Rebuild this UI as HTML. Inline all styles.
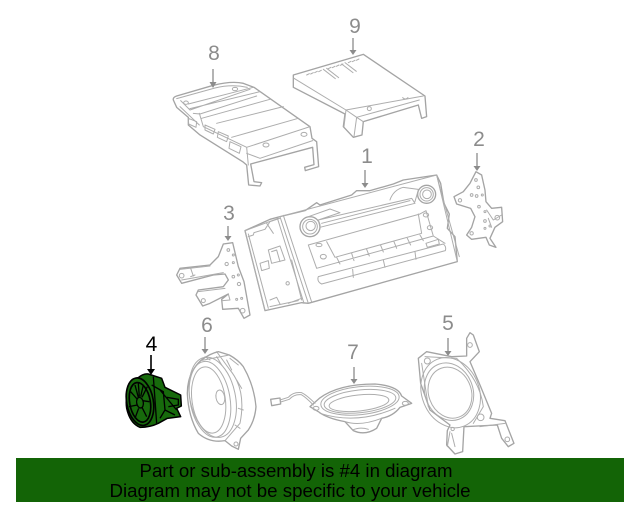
<!DOCTYPE html>
<html><head><meta charset="utf-8"><style>
html,body{margin:0;padding:0;background:#fff;width:640px;height:512px;overflow:hidden}
svg{display:block}
.g{fill:#fff;stroke:#a4a4a4;stroke-width:4;stroke-linejoin:round;stroke-linecap:round}
.n{fill:none;stroke:#adadad;stroke-width:3;stroke-linejoin:round;stroke-linecap:round}
.k{fill:#176a0c;stroke:#000;stroke-width:4.5;stroke-linejoin:round}
.kn{fill:none;stroke:#000;stroke-width:4}
.l{font-family:"Liberation Sans",sans-serif;font-size:21px;fill:#8c8c8c;text-anchor:middle}
.a{stroke:#8c8c8c;stroke-width:1.3;fill:none}
.h{fill:#8c8c8c}
</style></head><body>
<svg width="640" height="512" viewBox="0 0 640 512" xmlns="http://www.w3.org/2000/svg">

<!-- Part 8 -->
<g transform="translate(160,10) scale(.3333)">
<path class="g" d="M40 270Q38 262 50 258L160 226Q215 212 250 220L282 232L450 350L456 385L470 395L476 470L436 482L434 472L462 464L458 412L272 462L282 515L305 518L300 528L266 525L260 465L248 455L120 375L85 345L85 322L50 292Z"/>
<path class="n" d="M50 266L165 234Q215 222 262 232M62 272L90 300L270 238M85 282L280 232M90 296L300 245M100 310L120 312L290 258M118 310L130 350L260 412L450 350M125 325L330 268M170 340L370 290M215 382L415 325M260 412L265 465M260 430L300 445L458 392M60 290L118 345"/>
<path class="n" d="M135 345L165 358L160 372L135 360ZM175 365L205 378L200 395L172 382ZM210 395L243 410L238 430L207 415ZM85 325L110 335L108 352L86 342Z"/>
<ellipse class="n" cx="318" cy="405" rx="9" ry="6"/><ellipse class="n" cx="432" cy="373" rx="9" ry="6"/><ellipse class="n" cx="225" cy="237" rx="8" ry="5"/><ellipse class="n" cx="78" cy="278" rx="7" ry="5"/>
</g>

<!-- Part 9 -->
<g transform="translate(160,10) scale(.3333)">
<path class="g" d="M400 195L610 133L795 258L800 320L785 325L775 285L610 335L606 375L580 382L550 350L555 312L400 232Z"/>
<path class="n" d="M402 205L558 300L790 258M558 300L590 322L778 270M590 322L582 380M610 335L590 322M558 300L552 350"/>
<path class="n" d="M440 195l8-4M452 192l8-4M464 188l8-4M476 185l8-4M505 176l8-4M517 173l8-4M529 169l8-4M541 166l8-4M565 158l8-4M577 155l8-4M589 151l8-4M490 178l36 28M500 175l36 28M545 162l34 26M555 158l34 26"/>
<circle class="n" cx="628" cy="296" r="6"/><path class="n" d="M728 263q8 8 16 0"/>
</g>

<!-- Part 1 -->
<g transform="translate(170,140) scale(.3333)">
<path class="g" d="M225 272L285 245L300 238L330 230L405 212L440 188L450 195L545 165L560 152L600 152L670 132L700 120L800 105L812 130L822 190L838 222L832 265L855 290L862 365L415 490L395 488L285 512Z"/>
<path class="n" d="M330 230L800 105L862 365M330 230L415 490M322 234L402 490M340 226L425 486M225 272L285 512M235 282L295 505M300 500L385 482M225 272L325 235"/>
<path class="n" d="M235 290L250 285L252 278L285 268L300 245L330 235M290 250L310 280M295 330L330 318L345 360L305 370ZM305 335L320 330L330 365M270 370L295 362L298 385L275 392ZM365 360L395 480M300 480L320 472L330 492M355 490L395 475"/>
<circle class="n" cx="353" cy="430" r="5"/>
<circle class="g" cx="420" cy="260" r="30"/><circle class="n" cx="422" cy="258" r="14"/><circle class="n" cx="420" cy="260" r="22"/>
<circle class="g" cx="770" cy="163" r="27"/><circle class="n" cx="771" cy="163" r="13"/><circle class="n" cx="770" cy="163" r="20"/>
<path class="n" d="M415 230L480 207L510 218L445 240M445 240L725 175L735 190L450 262ZM455 250L720 182M660 180Q670 150 700 142L745 148M735 185L745 150"/>
<path class="n" d="M415 315L750 222L768 212L790 288L825 310M415 315L440 385L790 288M470 305L495 352L755 280L745 222M500 352L510 372M545 340L552 362M590 328L598 348M632 316L640 336M672 305L680 325M712 295L722 315M750 285L760 302M548 388L550 412M640 360L645 382M735 335L738 358"/>
<path class="n" d="M445 410L820 312Q830 320 826 332L455 432Q440 425 445 410Z"/>
<path class="n" d="M768 310L805 298L808 312L772 322Z"/>
<ellipse class="n" cx="447" cy="315" rx="9" ry="5"/><ellipse class="n" cx="460" cy="350" rx="9" ry="7"/><ellipse class="n" cx="768" cy="225" rx="8" ry="6"/><ellipse class="n" cx="780" cy="263" rx="8" ry="6"/>
<path class="n" d="M800 105L812 150L868 350"/>
</g>

<!-- Part 2 -->
<g transform="translate(170,140) scale(.3333)">
<path class="g" d="M918 95L935 105L945 150L948 185L965 205L995 202L998 245L975 262L960 295L978 322L958 315L948 292L905 298L890 285L905 262L915 230L902 205L860 192L852 170L880 155L900 130Z"/>
<path class="n" d="M950 210L970 240L995 225M965 262L955 235"/>
<circle class="n" cx="982" cy="233" r="7"/><circle class="n" cx="870" cy="181" r="5"/><circle class="n" cx="918" cy="120" r="4"/><circle class="n" cx="925" cy="142" r="4"/><circle class="n" cx="905" cy="165" r="4"/><circle class="n" cx="920" cy="168" r="4"/><circle class="n" cx="937" cy="165" r="3"/><circle class="n" cx="927" cy="200" r="4"/><circle class="n" cx="945" cy="215" r="3"/><circle class="n" cx="945" cy="243" r="4"/><circle class="n" cx="960" cy="258" r="3"/><circle class="n" cx="905" cy="280" r="5"/><circle class="n" cx="945" cy="265" r="3"/>
</g>

<!-- Part 3 -->
<g transform="translate(170,140) scale(.3333)">
<path class="g" d="M160 312L188 308L205 380L222 425L240 525L222 535L205 505L158 508L155 478L175 462L120 490L98 498L78 465L85 450L160 440L175 420L165 402L130 405L35 430L20 405L30 385L120 375L145 350Z"/>
<path class="n" d="M30 388L120 378M35 420L160 398M62 385L70 408M62 410L75 405M85 455L165 445M175 462L180 480L158 482"/>
<circle class="n" cx="35" cy="407" r="7"/><circle class="n" cx="100" cy="482" r="6"/><circle class="n" cx="218" cy="512" r="7"/><circle class="n" cx="170" cy="372" r="5"/><circle class="n" cx="175" cy="330" r="4"/><circle class="n" cx="190" cy="368" r="3"/><circle class="n" cx="190" cy="410" r="4"/><circle class="n" cx="205" cy="405" r="3"/><circle class="n" cx="207" cy="432" r="5"/><circle class="n" cx="200" cy="478" r="3"/><circle class="n" cx="215" cy="475" r="3"/><circle class="n" cx="190" cy="345" r="3"/>
</g>

<!-- Part 6 -->
<g transform="translate(110,310) scale(.3333)">
<path class="g" d="M272 152Q300 130 325 125L358 135Q385 150 400 170Q432 225 438 290Q435 330 415 360L392 385L385 418L365 408L345 392Q300 400 265 370Q235 320 232 250Q232 190 272 152Z"/>
<ellipse class="n" cx="308" cy="262" rx="68" ry="122" transform="rotate(-12 308 262)"/>
<ellipse class="n" cx="300" cy="268" rx="60" ry="115" transform="rotate(-10 300 268)"/>
<ellipse class="n" cx="296" cy="270" rx="50" ry="100" transform="rotate(-8 296 270)"/>
<ellipse class="n" cx="331" cy="262" rx="13" ry="22" transform="rotate(-10 331 262)"/>
<path class="n" d="M272 152L358 135M320 125L360 180Q410 240 390 340L345 392M285 140L300 150M320 140L335 165M350 150L365 180M380 210L395 235M385 295L400 300M375 345L390 355M360 145L385 165"/>
<circle class="n" cx="378" cy="402" r="6"/>
</g>

<!-- Part 4 -->
<g transform="translate(110,310) scale(.3333)">
<path class="k" d="M82 205Q100 190 115 192L155 205L165 232L212 255L214 288L200 295L212 320L172 325L145 340Q120 352 90 352Q60 340 50 295Q42 240 82 205Z"/>
<ellipse cx="90" cy="275" rx="40" ry="72" transform="rotate(-10 90 275)" fill="#176a0c" stroke="#000" stroke-width="5"/>
<ellipse cx="90" cy="277" rx="31" ry="60" transform="rotate(-10 90 277)" fill="#176a0c" stroke="#000" stroke-width="5"/>
<ellipse cx="90" cy="278" rx="10" ry="16" transform="rotate(-10 90 278)" fill="#176a0c" stroke="#000" stroke-width="4"/>
<path class="kn" d="M85 220L88 260M62 245L82 268M57 290L82 285M75 325L86 295M110 320L96 292M118 275L98 272M112 230L96 262M75 225L85 262M100 225L92 260M130 200L140 340M150 240L200 300M125 225L160 245L165 300L150 325M170 262L205 268L205 285L175 290M165 300L195 315"/>
</g>

<!-- Part 7 -->
<g transform="translate(260,310) scale(.3333)">
<path class="g" d="M150 290L178 265Q235 222 345 222Q415 228 425 258L455 280L420 292Q400 318 365 325L350 355Q315 378 280 362L255 335Q200 325 175 305Z"/>
<ellipse class="n" cx="300" cy="272" rx="118" ry="42" transform="rotate(-6 300 272)"/>
<ellipse class="n" cx="300" cy="274" rx="108" ry="34" transform="rotate(-6 300 274)"/>
<ellipse class="n" cx="297" cy="279" rx="90" ry="24" transform="rotate(-6 297 279)"/>
<path class="n" d="M180 310Q290 345 405 295M255 335Q300 350 365 325M278 360Q300 350 325 358"/>
<ellipse class="n" cx="168" cy="295" rx="9" ry="6"/><ellipse class="n" cx="436" cy="280" rx="9" ry="6"/>
<path class="g" d="M32 268L60 264L62 282L35 287Z"/>
<path class="n" d="M60 270L85 262Q100 245 125 248Q140 255 165 280M62 276L88 268Q102 252 124 254Q138 262 160 285"/>
</g>

<!-- Part 5 -->
<g transform="translate(260,310) scale(.3333)">
<path class="g" d="M475 145L500 125L575 140L620 138L620 85L630 68L640 75L658 125L630 155L660 225L695 310L690 325L735 332L762 400L745 410L725 385L712 345L612 350L608 425L585 432L560 405L562 362L570 345L510 300L482 220Z"/>
<ellipse class="n" cx="567" cy="245" rx="72" ry="88" transform="rotate(-20 567 245)"/>
<ellipse class="n" cx="570" cy="248" rx="64" ry="78" transform="rotate(-20 570 248)"/>
<ellipse class="n" cx="572" cy="248" rx="86" ry="108" transform="rotate(-22 572 248)"/>
<path class="n" d="M495 140L590 145Q660 210 670 290L640 340M485 160L505 290M660 350L735 340"/>
<circle class="n" cx="502" cy="153" r="9"/><circle class="n" cx="662" cy="322" r="10"/><circle class="n" cx="630" cy="105" r="7"/><circle class="n" cx="742" cy="388" r="7"/><circle class="n" cx="578" cy="357" r="5"/>
<path class="n" d="M570 365L562 410M575 370L585 410"/>
</g>

<!-- Arrows + labels -->
<path class="a" d="M213 69V84"/><path class="h" d="M209.5 82L213 88L216.500 82Z"/>
<text class="l" x="214" y="60">8</text>
<path class="a" d="M353 38V52"/><path class="h" d="M349.500 50L353 55L356.500 50Z"/>
<text class="l" x="355" y="33">9</text>
<path class="a" d="M365 170V185"/><path class="h" d="M361.500 183L365 188L368.500 183Z"/>
<text class="l" x="367" y="163">1</text>
<path class="a" d="M477 153V168"/><path class="h" d="M473.500 166L477 171L480.500 166Z"/>
<text class="l" x="479" y="146">2</text>
<path class="a" d="M228 226V238"/><path class="h" d="M224.500 236L228 241L231.500 236Z"/>
<text class="l" x="229" y="220">3</text>
<path class="a" d="M205 337V350"/><path class="h" d="M201.500 349L205 354L208.500 349Z"/>
<text class="l" x="207" y="332">6</text>
<path class="a" d="M354 367V380"/><path class="h" d="M350.500 379L354 384L357.500 379Z"/>
<text class="l" x="353" y="359">7</text>
<path class="a" d="M448 338V352"/><path class="h" d="M444.500 351L448 356L451.500 351Z"/>
<text class="l" x="448" y="330">5</text>
<path d="M151 355V371" stroke="#000" stroke-width="1.600" fill="none"/><path d="M147 369L151 375L155 369Z" fill="#000"/>
<text x="151.500" y="351" style="font-family:'Liberation Sans',sans-serif;font-size:21px;fill:#000;text-anchor:middle">4</text>

<!-- Banner -->
<rect x="16" y="458" width="608" height="44" fill="#136406"/>
<text x="296" y="477" style="font-family:'Liberation Sans',sans-serif;font-size:18px;fill:#000;text-anchor:middle" textLength="313" lengthAdjust="spacingAndGlyphs">Part or sub-assembly is #4 in diagram</text>
<text x="290" y="497" style="font-family:'Liberation Sans',sans-serif;font-size:18px;fill:#000;text-anchor:middle" textLength="361" lengthAdjust="spacingAndGlyphs">Diagram may not be specific to your vehicle</text>
</svg>
</body></html>
